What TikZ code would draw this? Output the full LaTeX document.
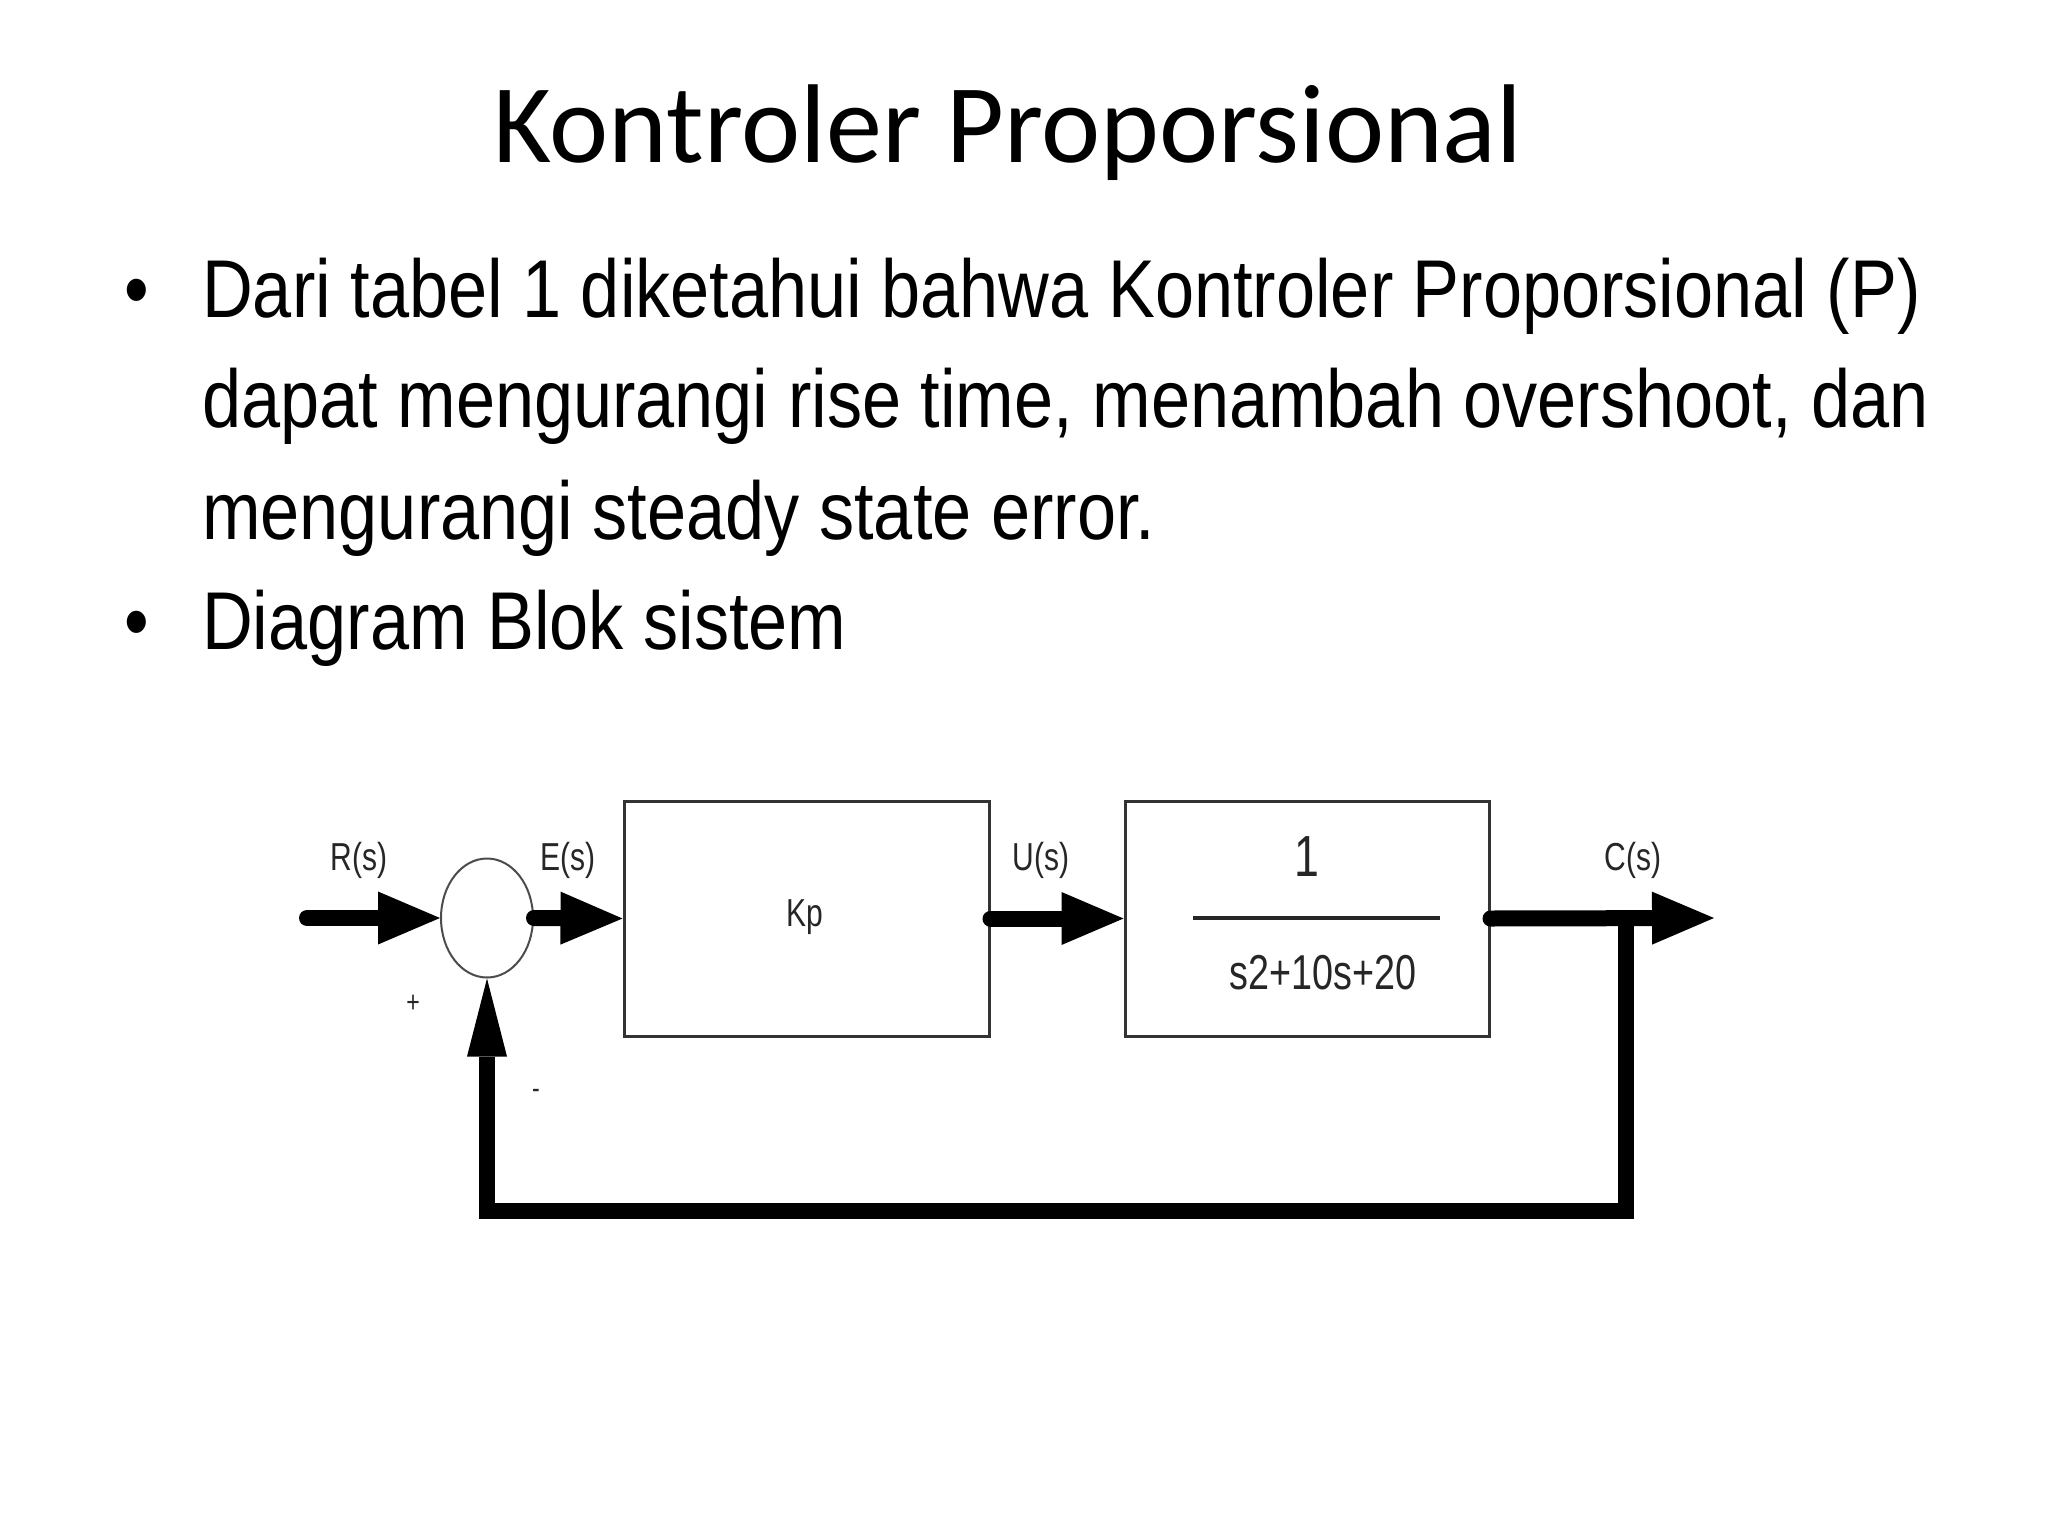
\documentclass[tikz,border=0pt]{standalone}
\usepackage{fontspec}
\setmainfont{Liberation Sans}
\newfontfamily\titlefont{Carlito}
\newfontfamily\bodyfont[FakeStretch=0.857]{Liberation Sans}
\newfontfamily\diafont[FakeStretch=0.77]{Liberation Sans}
\usetikzlibrary{arrows.meta,shapes.geometric}
\begin{document}
\begin{tikzpicture}[x=1pt,y=-1pt,
  titletext/.style={font=\titlefont\fontsize{112}{134}\selectfont, anchor=base, inner sep=0},
  bodytext/.style={font=\bodyfont\fontsize{82}{98}\selectfont, anchor=base west, inner sep=0},
  bulletmark/.style={font=\bodyfont\fontsize{82}{98}\selectfont, anchor=base, inner sep=0},
  block/.style={draw=black!80, line width=3pt, fill=white, minimum width=365pt, minimum height=235pt, inner sep=0},
  sumnode/.style={ellipse, draw=black!70, line width=2pt, minimum width=92pt, minimum height=119pt, inner sep=0},
  sig/.style={line width=16pt, line cap=round},
  hTip/.style={-{Triangle[length=62pt,width=53pt,line width=0pt]}},
  vTip/.style={-{Triangle[length=78pt,width=40pt,line width=0pt]}},
  lab/.style={font=\diafont\fontsize{39}{46}\selectfont, text=black!85, inner sep=0},
  fracnum/.style={font=\diafont\fontsize{58}{66}\selectfont, text=black!85, inner sep=0},
  fracden/.style={font=\diafont\fontsize{49}{58}\selectfont, text=black!85, inner sep=0},
  sign/.style={font=\diafont\fontsize{30}{34}\selectfont, text=black!85, inner sep=0},
]
\useasboundingbox (0,0) rectangle (2048,1536);
\fill[white] (0,0) rectangle (2048,1536);

% title and text
\node[titletext] (title) at (1008,163) {Kontroler Proporsional};
\node[bulletmark] (b1) at (137,317) {•};
\node[bodytext] (l1) at (202,317) {Dari tabel 1 diketahui bahwa Kontroler Proporsional (P)};
\node[bodytext] (l2) at (202,427) {dapat mengurangi rise time, menambah overshoot, dan};
\node[bodytext] (l3) at (202,539) {mengurangi steady state error.};
\node[bulletmark] (b2) at (137,649) {•};
\node[bodytext] (l4) at (202,649) {Diagram Blok sistem};

% block diagram
\node[sumnode] (sum) at (487,918) {};
\node[block] (kp) at (806.5,918.5) {};
\node[lab] (kplab) at (805,917) {Kp};
\node[block, minimum width=364pt] (plant) at (1307,918.5) {};
\node[fracnum] (num) at (1307,857) {1};
\node[fracden] (den) at (1323,973) {s2+10s+20};
\coordinate (fl) at (1193,918);
\coordinate (fr) at (1440,918);
\draw[line width=3.5pt, black!85] (fl) -- (fr);

\coordinate (in) at (307,918);
\coordinate (out) at (1714,918);
\coordinate (br) at (1626,918);
\coordinate (fb1) at (1626,1211);
\coordinate (fb2) at (487,1211);

\draw[sig, hTip] (in) -- (sum.west);
\draw[sig, hTip] (sum.east) -- (kp.west);
\draw[sig, hTip] (kp.east) -- (plant.west);
\draw[sig, hTip] (plant.east) -- (out);
\draw[line width=16pt, line cap=butt, line join=miter, vTip] (br) -- (fb1) -- (fb2) -- (sum.south);

\node[lab] (rs) at (359,860) {R(s)};
\node[lab] (es) at (568,860) {E(s)};
\node[lab] (us) at (1041,860) {U(s)};
\node[lab] (cs) at (1633,860) {C(s)};
\node[sign] (plus) at (413,1004) {+};
\node[sign] (minus) at (536,1094) {-};
\end{tikzpicture}
\end{document}
